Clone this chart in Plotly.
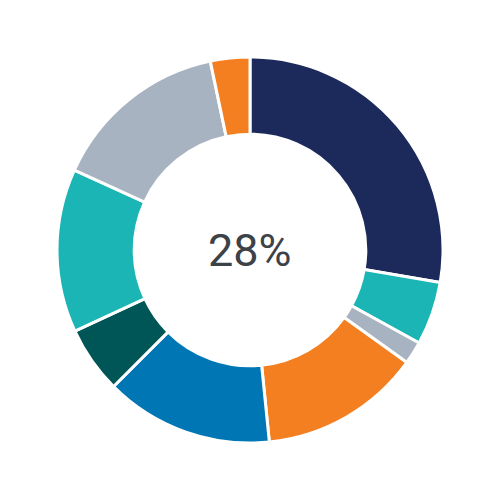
import plotly.graph_objects as go

labels = ["A", "B", "C", "D", "E", "F", "G", "H", "I"]
values = [27.7, 5.3, 1.9, 13.5, 14.1, 5.6, 13.7, 14.9, 3.3]
colors = ["#1b2a5b", "#1cb5b6", "#a8b3c1", "#f47f20", "#0076b5",
          "#005557", "#1cb5b6", "#a8b3c1", "#f47f20"]
center_text = "28%"

fig = go.Figure(go.Pie(
    labels=labels,
    values=values,
    hole=0.6,
    sort=False,
    direction="clockwise",
    rotation=0,
    textinfo="none",
    marker=dict(colors=colors, line=dict(color="white", width=3)),
    showlegend=False,
))

fig.add_annotation(text=center_text, x=0.5, y=0.5, xref="paper", yref="paper",
                   showarrow=False, font=dict(family="Roboto", size=45, color="#3d4148"))

# page body adds an 8px offset, so margins are shifted to keep the ring centred
fig.update_layout(
    width=500, height=500,
    margin=dict(l=49, r=65, t=49, b=65),
    paper_bgcolor="white",
    plot_bgcolor="white",
)

fig.write_html("out.html")
